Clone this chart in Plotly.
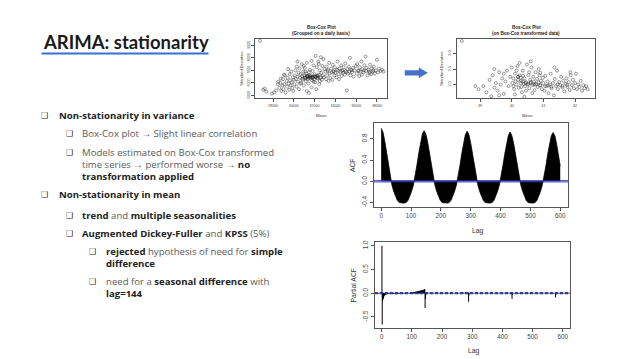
import plotly.graph_objects as go

# ---------------- data ----------------
bc1_mean = [26750, 27050, 27200, 27350, 27900, 28100, 28300, 28450, 28500,
            28600, 28700, 28800, 28900, 28950, 29000, 29100, 29150, 29200, 29300, 29350, 29400, 29500, 29550,
            29600, 29650, 29700, 29750, 29800, 29850, 29900, 29950, 30000, 29450, 29050, 28750,
            30050, 30100, 30150, 30200, 30250, 30300, 30350, 30400, 30450, 30500, 30550, 30600, 30650, 30700,
            30750, 30800, 30850, 30900, 30950, 31000, 31050, 31100, 31150, 31200, 31250, 31300, 31350, 31400,
            31450, 31500, 31550, 31600, 31650, 31700, 31750, 31800, 31850, 31900, 31950, 32000, 32050, 32100,
            32150, 32200, 32250, 32300, 32350, 32400, 32450, 32500, 32550, 32600, 32650, 32700, 32750, 32800,
            32850, 32900, 32950, 31250, 31450, 30350, 30950, 31700, 32400, 32150, 30600, 31900, 31100, 32500,
            33050, 33100, 33150, 33200, 33300, 33350, 33400, 33450, 33500, 33600, 33650, 33700, 33750, 33800,
            33900, 33950, 34000, 34100, 34150, 34200, 34300, 34350, 34400, 34500, 34550, 34600, 34700, 34750,
            34800, 34900, 34950, 35000, 35100, 35150, 35200, 35300, 35350, 35400, 35450, 35500, 35600, 35700,
            35750, 35850, 35950,
            36050, 36100, 36200, 36300, 36350, 36400, 36500, 36550, 36600, 36700, 36800, 36900, 36950, 37000,
            37100, 37200, 37300, 37350, 37450, 37500, 37600, 37700, 37800, 37900, 38000, 38100, 38200, 38350,
            38500, 38650,
            31050, 31250, 31400, 31600, 31800, 32000, 32250, 31150, 31500, 31850, 32100, 32600, 30800, 31350,
            31700, 32300, 33250, 33850, 34250, 34650, 35050, 35550, 36250, 36750, 37250, 37650]
bc1_sd = [9350, 5450, 5550, 5300, 5150, 5250, 5400, 5900, 6100,
          5600, 6000, 5350, 5800, 6300, 5500, 5900, 6600, 5250, 6150, 5700, 6400, 5950, 5450,
          6700, 6200, 5800, 6900, 6050, 5600, 6450, 5350, 6250, 7100, 6650, 6350,
          5900, 6600, 7000, 6300, 5700, 7300, 6500, 6100, 6800, 5500, 7150, 6400, 6700, 6000,
          7500, 6550, 6250, 6900, 5800, 6600, 7200, 6400, 6150, 6750, 7600, 6500, 6300, 5950,
          6850, 6450, 7050, 6350, 6600, 5650, 6200, 6950, 6500, 7400, 6300, 6700, 6050, 8150,
          6450, 7250, 6550, 6350, 7700, 6650, 5900, 7000, 6400, 8050, 6800, 6250, 7350, 6600,
          7900, 6450, 7100, 5350, 5200, 7700, 7350, 7750, 7500, 5500, 5950, 6100, 6900, 6150,
          6900, 6300, 7300, 6600, 7050, 6150, 7600, 6750, 6400, 7150, 6850, 6250, 7450, 6950,
          6600, 7250, 6800, 6450, 7050, 7700, 6700, 6300, 7150, 6900, 7400, 6550, 7000, 6800,
          7250, 6650, 7550, 6950, 5400, 7100, 6750, 7300, 6900, 8000, 6600, 7050, 6850, 7200,
          6500, 7000, 7350,
          6750, 7500, 7000, 6550, 7250, 6900, 7700, 6650, 7100, 6850, 7400, 8100, 6950, 7200,
          6600, 7050, 6800, 7450, 6700, 7150, 6900, 7300, 6750, 7000, 7850, 6850, 7150, 6950,
          7050, 6900,
          6450, 6550, 6400, 6500, 6450, 6550, 6400, 6350, 6600, 6400, 6500, 6450, 6350, 6550,
          6450, 6600, 6950, 6900, 7000, 6950, 6850, 7000, 6950, 7000, 6900, 7000]

bc2_mean = [38.42,
            38.85, 38.95, 39.1, 39.2, 39.3, 39.35, 39.4, 39.45, 39.5, 39.55, 39.6, 39.65, 39.7, 39.75,
            39.8, 39.85, 39.9, 39.95, 39.45, 39.6, 39.75,
            40.0, 40.02, 40.05, 40.08, 40.1, 40.12, 40.15, 40.18, 40.2, 40.22, 40.25, 40.28, 40.3, 40.32,
            40.35, 40.38, 40.4, 40.42, 40.45, 40.48, 40.5, 40.52, 40.55, 40.58, 40.6, 40.62, 40.65, 40.68,
            40.7, 40.72, 40.75, 40.78, 40.8, 40.82, 40.85, 40.88, 40.9, 40.92, 40.95, 40.98, 40.1, 40.4,
            40.6, 40.25, 40.85, 40.15, 40.45, 40.7, 40.05, 40.35, 40.55, 40.3, 40.9, 40.65, 40.2,
            41.0, 41.03, 41.06, 41.1, 41.13, 41.16, 41.2, 41.23, 41.26, 41.3, 41.33, 41.36, 41.4, 41.43,
            41.46, 41.5, 41.53, 41.56, 41.6, 41.63, 41.66, 41.7, 41.73, 41.76, 41.8, 41.83, 41.86, 41.9,
            41.93, 41.96, 42.0, 42.03, 42.06, 42.1, 42.14, 42.18, 42.22, 42.26, 42.3, 42.35, 42.4, 41.35,
            41.85,
            40.2, 40.28, 40.36, 40.44, 40.52, 40.6, 40.75, 40.9, 41.05, 41.15, 41.25, 41.45, 41.6, 41.75]
bc2_sd = [3.41,
          1.95, 1.85, 1.95, 1.75, 2.15, 1.62, 2.3, 1.9, 2.05, 1.8, 2.4, 2.0, 2.2, 1.7,
          2.1, 2.45, 1.95, 2.25, 2.5, 1.65, 2.35,
          2.55, 2.05, 2.2, 1.85, 2.35, 2.1, 2.0, 2.6, 2.15, 1.9, 2.3, 2.05, 2.12, 1.75,
          2.45, 2.02, 2.2, 1.95, 2.08, 2.65, 2.0, 2.3, 1.88, 2.15, 2.05, 2.55, 1.98, 2.25,
          2.1, 1.82, 2.4, 2.02, 2.18, 1.92, 2.07, 2.3, 1.97, 2.12, 1.85, 2.22, 1.68, 1.6,
          2.75, 2.7, 2.5, 2.45, 1.8, 2.0, 1.95, 2.1, 2.4, 1.92, 2.38, 1.72, 2.25,
          2.05, 1.8, 2.28, 1.95, 2.1, 1.72, 2.0, 2.35, 1.88, 2.05, 1.65, 2.18, 1.95, 2.45,
          1.85, 2.08, 1.98, 2.25, 1.9, 2.12, 1.78, 2.02, 2.2, 1.92, 2.08, 1.82, 2.3, 1.98,
          2.15, 1.88, 2.05, 2.35, 1.85, 2.0, 1.92, 2.12, 1.8, 1.98, 1.88, 1.95, 1.85, 2.55,
          2.4,
          2.25, 2.22, 2.28, 2.05, 2.02, 2.08, 2.0, 1.98, 1.95, 1.97, 1.93, 2.0, 1.95, 1.98]

acf_lags = list(range(0, 601, 6))
acf_vals = [1.00, 0.93, 0.76, 0.55, 0.32, 0.10, -0.07, -0.19, -0.29, -0.36, -0.40, -0.41, -0.41,
            -0.41, -0.40, -0.36, -0.29, -0.19, -0.07, 0.10, 0.31, 0.53, 0.73, 0.89, 0.955,
            0.89, 0.73, 0.53, 0.31, 0.10, -0.07, -0.19, -0.29, -0.36, -0.40, -0.41, -0.41,
            -0.41, -0.40, -0.36, -0.29, -0.19, -0.07, 0.09, 0.30, 0.52, 0.72, 0.88, 0.945,
            0.88, 0.72, 0.52, 0.30, 0.09, -0.07, -0.19, -0.29, -0.36, -0.40, -0.41, -0.41,
            -0.41, -0.40, -0.36, -0.29, -0.19, -0.07, 0.09, 0.30, 0.51, 0.71, 0.86, 0.93,
            0.86, 0.71, 0.51, 0.30, 0.09, -0.07, -0.19, -0.29, -0.36, -0.40, -0.41, -0.41,
            -0.41, -0.40, -0.36, -0.29, -0.19, -0.07, 0.09, 0.29, 0.51, 0.70, 0.86, 0.92,
            0.86, 0.70, 0.51, 0.29]

pacf_lags = [1, 2, 3, 4, 5, 6, 7, 8, 10, 12, 15, 20, 25, 30, 35, 40, 45, 50, 55, 60, 65, 70, 75, 80, 85, 90,
             96, 98, 100, 102, 104, 106, 108, 110, 112, 114, 116, 118, 120, 122, 124, 126, 128, 130, 132,
             134, 136, 138, 140, 142, 143, 144, 145, 146, 150, 200, 270, 280, 286, 288, 289, 430, 432, 433,
             576, 577]
pacf_vals = [1.0, -0.66, -0.17, -0.14, -0.12, -0.10, -0.08, -0.06, -0.05, -0.04, -0.03, -0.02, -0.02,
             -0.015, -0.015, -0.015, -0.02, -0.02, -0.015, -0.015, -0.01, -0.01, -0.008, -0.005, 0.0, 0.005,
             0.01, 0.012, 0.015, 0.018, 0.02, 0.022, 0.025, 0.028, 0.03, 0.033, 0.036, 0.04, 0.042, 0.045,
             0.048, 0.05, 0.053, 0.056, 0.06, 0.063, 0.066, 0.07, 0.075, 0.08, 0.085, -0.31, -0.12, -0.05,
             -0.02, 0.005, 0.015, 0.02, 0.02, -0.18, -0.05, 0.015, -0.12, -0.04, -0.09, -0.03]
conf_level = 0.012

bc1_xticks = [28000, 30000, 32000, 34000, 36000, 38000]
bc1_xtext = ["28000", "30000", "32000", "34000", "36000", "38000"]
bc1_yticks = [5000, 6000, 7000, 8000, 9000]
bc1_ytext = ["5000", "6000", "7000", "8000", "9000"]
bc2_xticks = [39, 40, 41, 42]
bc2_xtext = ["39", "40", "41", "42"]
bc2_yticks = [2.0, 2.5, 3.0]
bc2_ytext = ["2.0", "2.5", "3.0"]
acf_xticks = [0, 100, 200, 300, 400, 500, 600]
acf_xtext = ["0", "100", "200", "300", "400", "500", "600"]
acf_yticks = [-0.4, 0.0, 0.4, 0.8]
acf_ytext = ["-0.4", "0.0", "0.4", "0.8"]
pacf_yticks = [-0.5, 0.0, 0.5, 1.0]
pacf_ytext = ["-0.5", "0.0", "0.5", "1.0"]

# ---------------- layout helpers ----------------
W, H = 638, 359
def fx(px):
    return px / W
def fy(py):
    return 1 - py / H

fig = go.Figure()

pt_marker = dict(symbol='circle-open', size=3.0, color='rgba(20,20,20,0.7)', line=dict(width=0.6))
fig.add_trace(go.Scatter(x=bc1_mean, y=bc1_sd, mode='markers', marker=pt_marker,
                         xaxis='x', yaxis='y', showlegend=False, hoverinfo='skip'))
fig.add_trace(go.Scatter(x=bc2_mean, y=bc2_sd, mode='markers', marker=pt_marker,
                         xaxis='x2', yaxis='y2', showlegend=False, hoverinfo='skip'))

# ACF
fig.add_trace(go.Scatter(x=acf_lags, y=acf_vals, mode='lines', fill='tozeroy', fillcolor='black',
                         line=dict(color='black', width=0.8), xaxis='x3', yaxis='y3',
                         showlegend=False, hoverinfo='skip'))
for c in (conf_level, -conf_level):
    fig.add_trace(go.Scatter(x=[-24, 626], y=[c, c], mode='lines',
                             line=dict(color='rgb(40,40,175)', width=0.9),
                             xaxis='x3', yaxis='y3', showlegend=False, hoverinfo='skip'))

# PACF (vertical "h" lines)
px_, py_ = [], []
for l, v in zip(pacf_lags, pacf_vals):
    px_ += [l, l, None]
    py_ += [0, v, None]
fig.add_trace(go.Scatter(x=px_, y=py_, mode='lines', line=dict(color='black', width=1),
                         xaxis='x4', yaxis='y4', showlegend=False, hoverinfo='skip'))
fig.add_trace(go.Scatter(x=[-22, 624], y=[0, 0], mode='lines', line=dict(color='black', width=0.7),
                         xaxis='x4', yaxis='y4', showlegend=False, hoverinfo='skip'))
for c in (conf_level, -conf_level):
    fig.add_trace(go.Scatter(x=[-22, 624], y=[c, c], mode='lines',
                             line=dict(color='rgb(40,40,175)', width=1.0, dash='3px,2px'),
                             xaxis='x4', yaxis='y4', showlegend=False, hoverinfo='skip'))

def ax(domain, rng, tickvals, ticktext, fs=4, angle=0, anchor=None):
    return dict(domain=domain, range=rng, tickmode='array', tickvals=tickvals, ticktext=ticktext,
                showline=True, mirror=True, linecolor='#555', linewidth=1,
                ticks='outside', ticklen=3, tickwidth=0.8, tickcolor='#555',
                showgrid=False, zeroline=False, tickangle=angle,
                tickfont=dict(size=fs, color='#444', family='Liberation Sans'),
                anchor=anchor)

fig.update_layout(
    width=W, height=H, margin=dict(l=0, r=0, t=0, b=0),
    paper_bgcolor='white', plot_bgcolor='white',
    xaxis=ax([fx(255), fx(387)], [26260, 38970], bc1_xticks, bc1_xtext, fs=3.6, anchor='y'),
    yaxis=ax([fy(97), fy(37)], [4760, 9520], bc1_yticks, bc1_ytext, fs=3.6, angle=-90, anchor='x'),
    xaxis2=ax([fx(457), fx(595)], [38.27, 42.63], bc2_xticks, bc2_xtext, fs=3.8, anchor='y2'),
    yaxis2=ax([fy(97), fy(37)], [1.55, 3.48], bc2_yticks, bc2_ytext, fs=3.8, angle=-90, anchor='x2'),
    xaxis3=ax([fx(374), fx(568)], [-24, 626], acf_xticks, acf_xtext, fs=6.3, anchor='y3'),
    yaxis3=ax([fy(205.7), fy(122)], [-0.477, 1.094], acf_yticks, acf_ytext, fs=6.3, angle=-90, anchor='x3'),
    xaxis4=ax([fx(375), fx(570)], [-22, 624], acf_xticks, acf_xtext, fs=6.3, anchor='y4'),
    yaxis4=ax([fy(327.7), fy(241.7)], [-0.73, 1.07], pacf_yticks, pacf_ytext, fs=6.3, angle=-90, anchor='x4'),
)

ann = []
def label(px, py, text, size, color='#333', family='Liberation Sans', angle=0, xanchor='center'):
    ann.append(dict(x=fx(px), y=fy(py), xref='paper', yref='paper', text=text, showarrow=False,
                    font=dict(size=size, color=color, family=family), textangle=angle,
                    xanchor=xanchor, yanchor='middle'))

# title
label(41, 40, "<b>ARIMA: stationarity</b>", 18.5, color='#1a1a1a', family='Lato', xanchor='left')

# scatter titles / axis titles
label(321, 26, "<b>Box-Cox Plot</b>", 4.6, color='#222')
label(321, 31.5, "<b>(Grouped on a daily basis)</b>", 4.6, color='#222')
label(526, 26, "<b>Box-Cox Plot</b>", 4.6, color='#222')
label(526, 31.5, "<b>(on Box-Cox transformed data)</b>", 4.6, color='#222')
label(321, 114, "Mean", 4.2)
label(527, 114, "Mean", 4.2)
label(242, 67, "Standard Deviation", 4.0, angle=-90)
label(442, 67, "Standard Deviation", 4.0, angle=-90)
label(352, 164, "ACF", 6.8, angle=-90)
label(478, 230, "Lag", 6.8)
label(353, 285, "Partial ACF", 6.8, angle=-90)
label(474, 351, "Lag", 6.8)

# bullets
TXT = 'Open Sans'
dark = '#222'
grey = '#5a5a5a'
def b(s):
    return f"<span style='color:{dark}'><b>{s}</b></span>"
bullets = [
    (45, 57, 114, b("Non-stationarity in variance")),
    (69, 80, 132.7, "Box-Cox plot \u2192 Slight linear correlation"),
    (69, 80, 151.7, "Models estimated on Box-Cox transformed"),
    (None, 80, 163.5, "time series \u2192 performed worse \u2192 " + b("no")),
    (None, 80, 175, b("transformation applied")),
    (45, 57, 193.3, b("Non-stationarity in mean")),
    (69, 80, 214.3, b("trend") + " and " + b("multiple seasonalities")),
    (69, 80, 232.3, b("Augmented Dickey-Fuller") + " and " + b("KPSS") + " (5%)"),
    (92, 104, 251.2, b("rejected") + " hypothesis of need for " + b("simple")),
    (None, 104, 262.8, b("difference")),
    (92, 104, 281.2, "need for a " + b("seasonal difference") + " with"),
    (None, 104, 292.8, b("lag=144")),
]
for cx, tx, y, t in bullets:
    if cx is not None:
        label(cx, y, "\u2751", 8, color='#222', family='DejaVu Sans')
    label(tx, y, t, 9.6, color=grey, family=TXT, xanchor='left')

fig.update_layout(annotations=ann)

# title underline and arrow
shapes = [dict(type='line', xref='paper', yref='paper', x0=fx(41.5), x1=fx(208.5), y0=fy(51.7), y1=fy(51.7),
               line=dict(color='#3b6fd4', width=2))]
pts = [(405, 68.8), (419, 68.8), (419, 66.3), (427.5, 71.2), (419, 76.1), (419, 73.6), (405, 73.6)]
path = "M " + " L ".join(f"{fx(a):.5f},{fy(c):.5f}" for a, c in pts) + " Z"
shapes.append(dict(type='path', xref='paper', yref='paper', path=path,
                   fillcolor='#4472c4', line=dict(color='#4472c4', width=0.5)))
fig.update_layout(shapes=shapes)

fig.write_html("out.html", config={'displayModeBar': False},
               post_script="document.body.style.margin='0';document.body.style.overflow='hidden';")
